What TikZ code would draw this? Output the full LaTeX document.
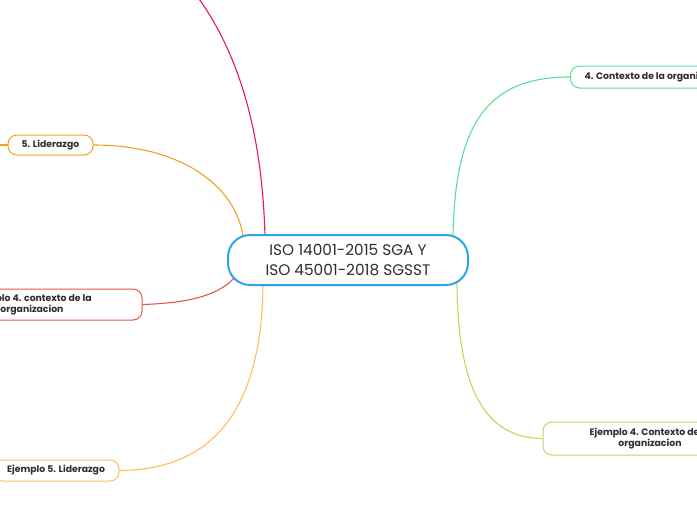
\documentclass[tikz,border=0pt]{standalone}
\usepackage{fontspec}
\setmainfont{Poppins}
\definecolor{cblue}{HTML}{2BA6E4}
\definecolor{cred}{HTML}{E5195A}
\definecolor{corange}{HTML}{F2A024}
\definecolor{csalmon}{HTML}{E8554A}
\definecolor{clorange}{HTML}{FFBE5C}
\definecolor{cgreen}{HTML}{5EDF95}
\definecolor{clgreen}{HTML}{B4DD62}
\definecolor{ctext}{HTML}{2E2E2E}
\begin{document}
\begin{tikzpicture}[x=1pt,y=-1pt,
  central/.style={draw=cblue,line width=2pt,fill=white,rounded corners=22pt,minimum width=240pt,minimum height=50pt,align=center,text=ctext,font=\fontsize{15.3}{20}\selectfont,inner sep=0pt},
  topic/.style={draw=#1,line width=1pt,fill=white,rounded corners=9pt,text=ctext,font=\fontsize{9.3}{11.5}\selectfont\bfseries,align=center,inner sep=0pt},
  conn/.style={draw=#1,line width=1.1pt}]
\useasboundingbox (0,0) rectangle (697,520);
\fill[white] (0,0) rectangle (697,520);
% connector endpoints on the central node
\coordinate (cr) at (265,236);
\coordinate (co) at (243,236);
\coordinate (cs) at (236,276);
\coordinate (clo) at (263,284);
\coordinate (cg) at (453,236);
\coordinate (clg) at (457,284);
\coordinate (top) at (180,-25);
\coordinate (lidl) at (-10,145);
% child nodes
\node[topic=corange,minimum width=85pt,minimum height=20pt] (lid) at (50.5,145) {5. Liderazgo};
\node[topic=csalmon,minimum width=220pt,minimum height=31pt] (ej4) at (32,304.5) {Ejemplo 4. contexto de la\\organizacion};
\node[topic=clorange,minimum width=126pt,minimum height=21pt] (ej5) at (56,470.5) {Ejemplo 5. Liderazgo};
\node[topic=cgreen,minimum height=22pt,inner xsep=14pt,anchor=west] (ctx) at (570,77) {4. Contexto de la organizacion};
\node[topic=clgreen,minimum width=214pt,minimum height=33pt] (ej4r) at (650,438.5) {Ejemplo 4. Contexto de la\\organizacion};
% connectors
\draw[conn=cred] (cr) .. controls (262,130) and (238,40) .. (top);
\draw[conn=corange] (lid.east) .. controls (180,145) and (235,185) .. (co);
\draw[conn=corange] (lid.west) -- (lidl);
\draw[conn=csalmon] (ej4.east) .. controls (190,303) and (220,295) .. (cs);
\draw[conn=clorange] (ej5.east) .. controls (220,470) and (262,400) .. (clo);
\draw[conn=cgreen] (ctx.west) .. controls (490,77) and (455,120) .. (cg);
\draw[conn=clgreen] (ej4r.west) .. controls (480,438) and (458,380) .. (clg);
% central
\node[central] (c) at (348,260) {ISO 14001-2015 SGA Y\\ISO 45001-2018 SGSST};
\end{tikzpicture}
\end{document}
